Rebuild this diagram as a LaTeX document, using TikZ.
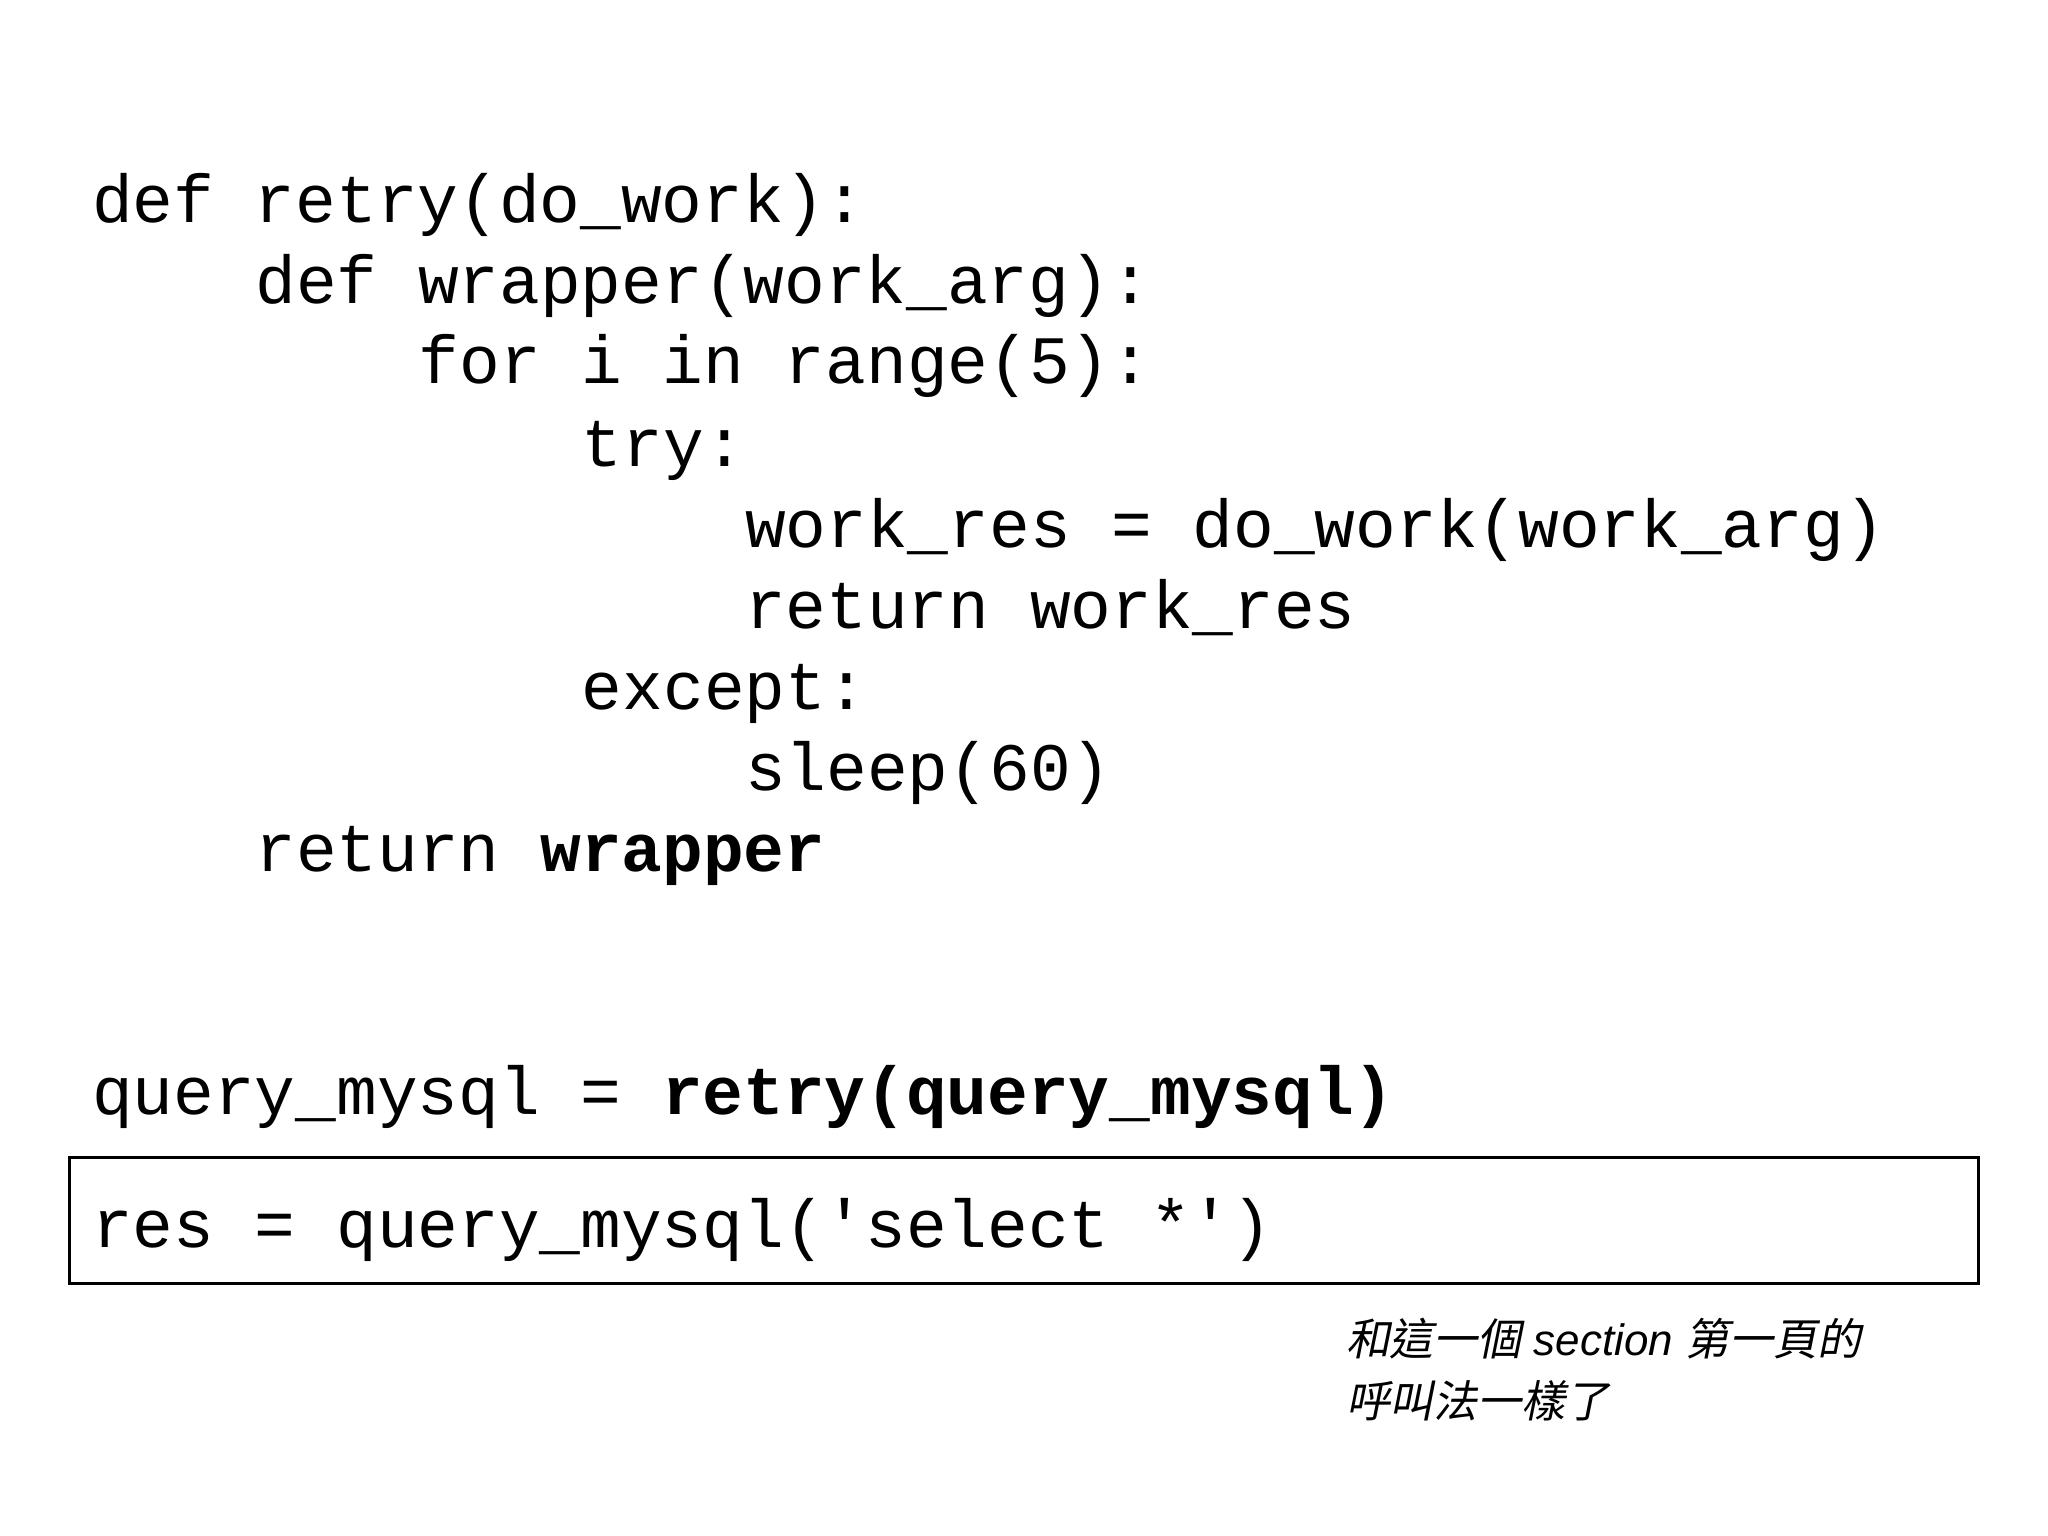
\documentclass[tikz,border=0pt]{standalone}
\usepackage{fontspec}
\setmonofont{Liberation Mono}
\setsansfont{Liberation Sans}
\newfontfamily\cjk[FakeSlant=0.2]{Noto Sans CJK TC}
\begin{document}
\begin{tikzpicture}[x=0.01306cm,y=-0.01306cm,
  code/.style={anchor=base west,inner sep=0pt,font=\fontsize{19.3pt}{23pt}\ttfamily},
  note/.style={anchor=base west,inner sep=0pt,font=\fontsize{12.5pt}{15pt}\sffamily\itshape}]
\useasboundingbox (0,0) rectangle (1568,1176);
\node[code] (l1) at (70,170) {def retry(do\_work):};
\node[code] (l2) at (195,232) {def wrapper(work\_arg):};
\node[code] (l3) at (320,294) {for i in range(5):};
\node[code] (l4) at (445,357) {try:};
\node[code] (l5) at (570,419) {work\_res = do\_work(work\_arg)};
\node[code] (l6) at (570,481) {return work\_res};
\node[code] (l7) at (445,543) {except:};
\node[code] (l8) at (570,605) {sleep(60)};
\node[code] (l9) at (195,667) {return \textbf{wrapper}};
\node[code] (q) at (70,853) {query\_mysql = \textbf{retry(query\_mysql)}};
\draw[line width=0.9pt] (53,886) rectangle (1515,983);
\node[code] (r) at (70,955) {res = query\_mysql('select *')};
\node[note] (n1) at (1030,1038) {{\cjk 和這一個} section {\cjk 第一頁的}};
\node[note] (n2) at (1030,1085) {{\cjk 呼叫法一樣了}};
\end{tikzpicture}
\end{document}
